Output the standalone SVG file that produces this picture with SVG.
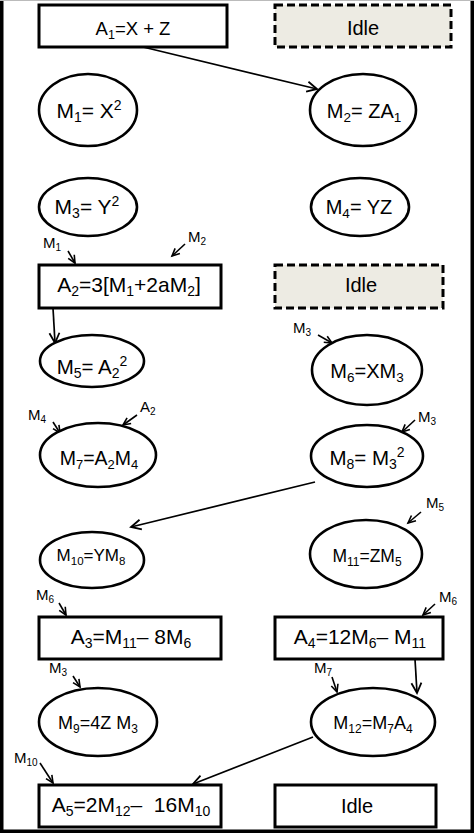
<svg xmlns="http://www.w3.org/2000/svg" width="474" height="833" viewBox="0 0 474 833">
<defs>
<style>
text{font-family:"Liberation Sans",Arial,sans-serif;fill:#000;text-anchor:middle}
.box{fill:#fff;stroke:#000;stroke-width:3}
.idle{fill:#EDEBE3;stroke:#000;stroke-width:3;stroke-dasharray:8 4}
.ell{fill:#fff;stroke:#000;stroke-width:2.6}
.arr{stroke:#000;stroke-width:1.7;fill:none;marker-end:url(#ah)}
.sarr{stroke:#000;stroke-width:1.6;fill:none;marker-end:url(#sah)}
.lbl{font-size:15px;text-anchor:start}
.frame{stroke:#000;stroke-width:3.5}
</style>
<marker id="ah" markerUnits="userSpaceOnUse" markerWidth="14" markerHeight="14" refX="11" refY="6" orient="auto" viewBox="0 0 14 12">
<path d="M1,1 L11,6 L1,11" fill="none" stroke="#000" stroke-width="1.8"/>
</marker>
<marker id="sah" markerUnits="userSpaceOnUse" markerWidth="11" markerHeight="11" refX="8.5" refY="4.5" orient="auto" viewBox="0 0 11 9">
<path d="M1,1 L8.5,4.5 L1,8" fill="none" stroke="#000" stroke-width="1.6"/>
</marker>
</defs>
<rect x="0" y="0" width="474" height="833" fill="#fff"/>
<g id="frame">
<line class="frame" x1="1.75" y1="0" x2="1.75" y2="833"/>
<line class="frame" x1="472.25" y1="0" x2="472.25" y2="833"/>
<line class="frame" x1="0" y1="831.25" x2="474" y2="831.25"/>
<line x1="0" y1="0.5" x2="474" y2="0.5" stroke="#bbb" stroke-width="1"/>
</g>

<g id="connectors">
<line class="arr" x1="143" y1="47" x2="317" y2="89"/>
<line class="arr" x1="53" y1="308" x2="55" y2="343"/>
<line class="arr" x1="315" y1="482" x2="131" y2="527"/>
<line class="arr" x1="415" y1="659" x2="417" y2="693"/>
<line class="arr" x1="313" y1="737" x2="193" y2="784"/>
<line class="sarr" x1="68" y1="251" x2="75" y2="263"/>
<line class="sarr" x1="185" y1="244" x2="172" y2="256"/>
<line class="sarr" x1="318" y1="335" x2="332" y2="343"/>
<line class="sarr" x1="53" y1="422" x2="60" y2="433"/>
<line class="sarr" x1="137" y1="415" x2="123" y2="425"/>
<line class="sarr" x1="415" y1="420" x2="402" y2="432"/>
<line class="sarr" x1="421" y1="512" x2="408" y2="523"/>
<line class="sarr" x1="59" y1="603" x2="66" y2="615"/>
<line class="sarr" x1="435" y1="604" x2="423" y2="615"/>
<line class="sarr" x1="73" y1="676" x2="80" y2="687"/>
<line class="sarr" x1="332" y1="677" x2="337" y2="692"/>
<line class="sarr" x1="40" y1="763" x2="53" y2="783"/>
</g>

<g id="labels">
<text class="lbl" x="43" y="248">M<tspan dy="3" font-size="10">1</tspan></text>
<text class="lbl" x="188" y="242">M<tspan dy="3" font-size="10">2</tspan></text>
<text class="lbl" x="293" y="333">M<tspan dy="3" font-size="10">3</tspan></text>
<text class="lbl" x="28" y="420">M<tspan dy="3" font-size="10">4</tspan></text>
<text class="lbl" x="140" y="412">A<tspan dy="3" font-size="10">2</tspan></text>
<text class="lbl" x="418" y="422">M<tspan dy="3" font-size="10">3</tspan></text>
<text class="lbl" x="426" y="508">M<tspan dy="3" font-size="10">5</tspan></text>
<text class="lbl" x="36" y="600">M<tspan dy="3" font-size="10">6</tspan></text>
<text class="lbl" x="439" y="602">M<tspan dy="3" font-size="10">6</tspan></text>
<text class="lbl" x="49" y="673">M<tspan dy="3" font-size="10">3</tspan></text>
<text class="lbl" x="314" y="673">M<tspan dy="3" font-size="10">7</tspan></text>
<text class="lbl" x="14" y="763">M<tspan dy="3" font-size="10">10</tspan></text>
</g>

<g id="A1">
<rect class="box" x="39" y="5" width="188" height="42"/>
<text x="133" y="35" font-size="18.5">A<tspan dy="4" font-size="12.5">1</tspan><tspan dy="-4">=X + Z</tspan></text>
</g>
<g id="idle1">
<rect class="idle" x="275" y="5" width="176" height="42"/>
<text x="363" y="35" font-size="20">Idle</text>
</g>
<g id="M1">
<ellipse class="ell" cx="88" cy="110" rx="49" ry="36"/>
<text x="89" y="118" font-size="21">M<tspan dy="4" font-size="14">1</tspan><tspan dy="-4">= X</tspan><tspan dy="-8" font-size="14">2</tspan></text>
</g>
<g id="M2">
<ellipse class="ell" cx="363" cy="110" rx="53" ry="36"/>
<text x="364" y="118" font-size="20">M<tspan dy="4" font-size="13.5">2</tspan><tspan dy="-4">= ZA</tspan><tspan dy="4" font-size="13.5">1</tspan></text>
</g>
<g id="M3">
<ellipse class="ell" cx="88" cy="207" rx="49" ry="29"/>
<text x="87" y="214" font-size="21">M<tspan dy="4" font-size="14">3</tspan><tspan dy="-4">= Y</tspan><tspan dy="-8" font-size="14">2</tspan></text>
</g>
<g id="M4">
<ellipse class="ell" cx="360" cy="207" rx="49" ry="29"/>
<text x="359" y="214" font-size="20">M<tspan dy="4" font-size="13.5">4</tspan><tspan dy="-4">= YZ</tspan></text>
</g>
<g id="A2">
<rect class="box" x="39" y="265" width="182" height="43"/>
<text x="129" y="292" font-size="21">A<tspan dy="4" font-size="14">2</tspan><tspan dy="-4">=3[M</tspan><tspan dy="4" font-size="14">1</tspan><tspan dy="-4">+2aM</tspan><tspan dy="4" font-size="14">2</tspan><tspan dy="-4">]</tspan></text>
</g>
<g id="idle2">
<rect class="idle" x="275" y="265" width="168" height="43"/>
<text x="361" y="292" font-size="20">Idle</text>
</g>
<g id="M5">
<ellipse class="ell" cx="92" cy="361" rx="52" ry="26"/>
<text x="92" y="374" font-size="20.5">M<tspan dy="4" font-size="14">5</tspan><tspan dy="-4">= A</tspan><tspan dy="4" font-size="14">2</tspan><tspan dy="-12" font-size="14">2</tspan></text>
</g>
<g id="M6">
<ellipse class="ell" cx="367" cy="370" rx="55" ry="35"/>
<text x="367" y="378" font-size="20">M<tspan dy="4" font-size="13.5">6</tspan><tspan dy="-4">=XM</tspan><tspan dy="4" font-size="13.5">3</tspan></text>
</g>
<g id="M7">
<ellipse class="ell" cx="98" cy="455" rx="58" ry="32"/>
<text x="99" y="465" font-size="19.5">M<tspan dy="4" font-size="13">7</tspan><tspan dy="-4">=A</tspan><tspan dy="4" font-size="13">2</tspan><tspan dy="-4">M</tspan><tspan dy="4" font-size="13">4</tspan></text>
</g>
<g id="M8">
<ellipse class="ell" cx="367" cy="456" rx="56" ry="31"/>
<text x="367" y="465" font-size="20.5">M<tspan dy="4" font-size="14">8</tspan><tspan dy="-4">= M</tspan><tspan dy="4" font-size="14">3</tspan><tspan dy="-12" font-size="14">2</tspan></text>
</g>
<g id="M10">
<ellipse class="ell" cx="92" cy="560" rx="52" ry="28"/>
<text x="91" y="561" font-size="17">M<tspan dy="3.5" font-size="11.5">10</tspan><tspan dy="-3.5">=YM</tspan><tspan dy="3.5" font-size="11.5">8</tspan></text>
</g>
<g id="M11">
<ellipse class="ell" cx="366" cy="554" rx="56" ry="34"/>
<text x="367" y="562" font-size="17.5">M<tspan dy="3.5" font-size="12">11</tspan><tspan dy="-3.5">=ZM</tspan><tspan dy="3.5" font-size="12">5</tspan></text>
</g>
<g id="A3">
<rect class="box" x="39" y="617" width="182" height="42"/>
<text x="131" y="644" font-size="21">A<tspan dy="4" font-size="14">3</tspan><tspan dy="-4">=M</tspan><tspan dy="4" font-size="14">11</tspan><tspan dy="-4">– 8M</tspan><tspan dy="4" font-size="14">6</tspan></text>
</g>
<g id="A4">
<rect class="box" x="275" y="617" width="168" height="42"/>
<text x="360" y="644" font-size="21">A<tspan dy="4" font-size="14">4</tspan><tspan dy="-4">=12M</tspan><tspan dy="4" font-size="14">6</tspan><tspan dy="-4">– M</tspan><tspan dy="4" font-size="14">11</tspan></text>
</g>
<g id="M9">
<ellipse class="ell" cx="98" cy="722" rx="59" ry="34"/>
<text x="98" y="729" font-size="18">M<tspan dy="4" font-size="12">9</tspan><tspan dy="-4">=4Z M</tspan><tspan dy="4" font-size="12">3</tspan></text>
</g>
<g id="M12">
<ellipse class="ell" cx="373" cy="722" rx="62" ry="34"/>
<text x="373" y="729" font-size="18">M<tspan dy="4" font-size="12">12</tspan><tspan dy="-4">=M</tspan><tspan dy="4" font-size="12">7</tspan><tspan dy="-4">A</tspan><tspan dy="4" font-size="12">4</tspan></text>
</g>
<g id="A5">
<rect class="box" x="39" y="785" width="182" height="42"/>
<text x="131" y="812" font-size="21">A<tspan dy="4" font-size="14">5</tspan><tspan dy="-4">=2M</tspan><tspan dy="4" font-size="14">12</tspan><tspan dy="-4">–&#160; 16M</tspan><tspan dy="4" font-size="14">10</tspan></text>
</g>
<g id="idle3">
<rect class="box" x="275" y="785" width="161" height="42"/>
<text x="357" y="813" font-size="20">Idle</text>
</g>
</svg>
